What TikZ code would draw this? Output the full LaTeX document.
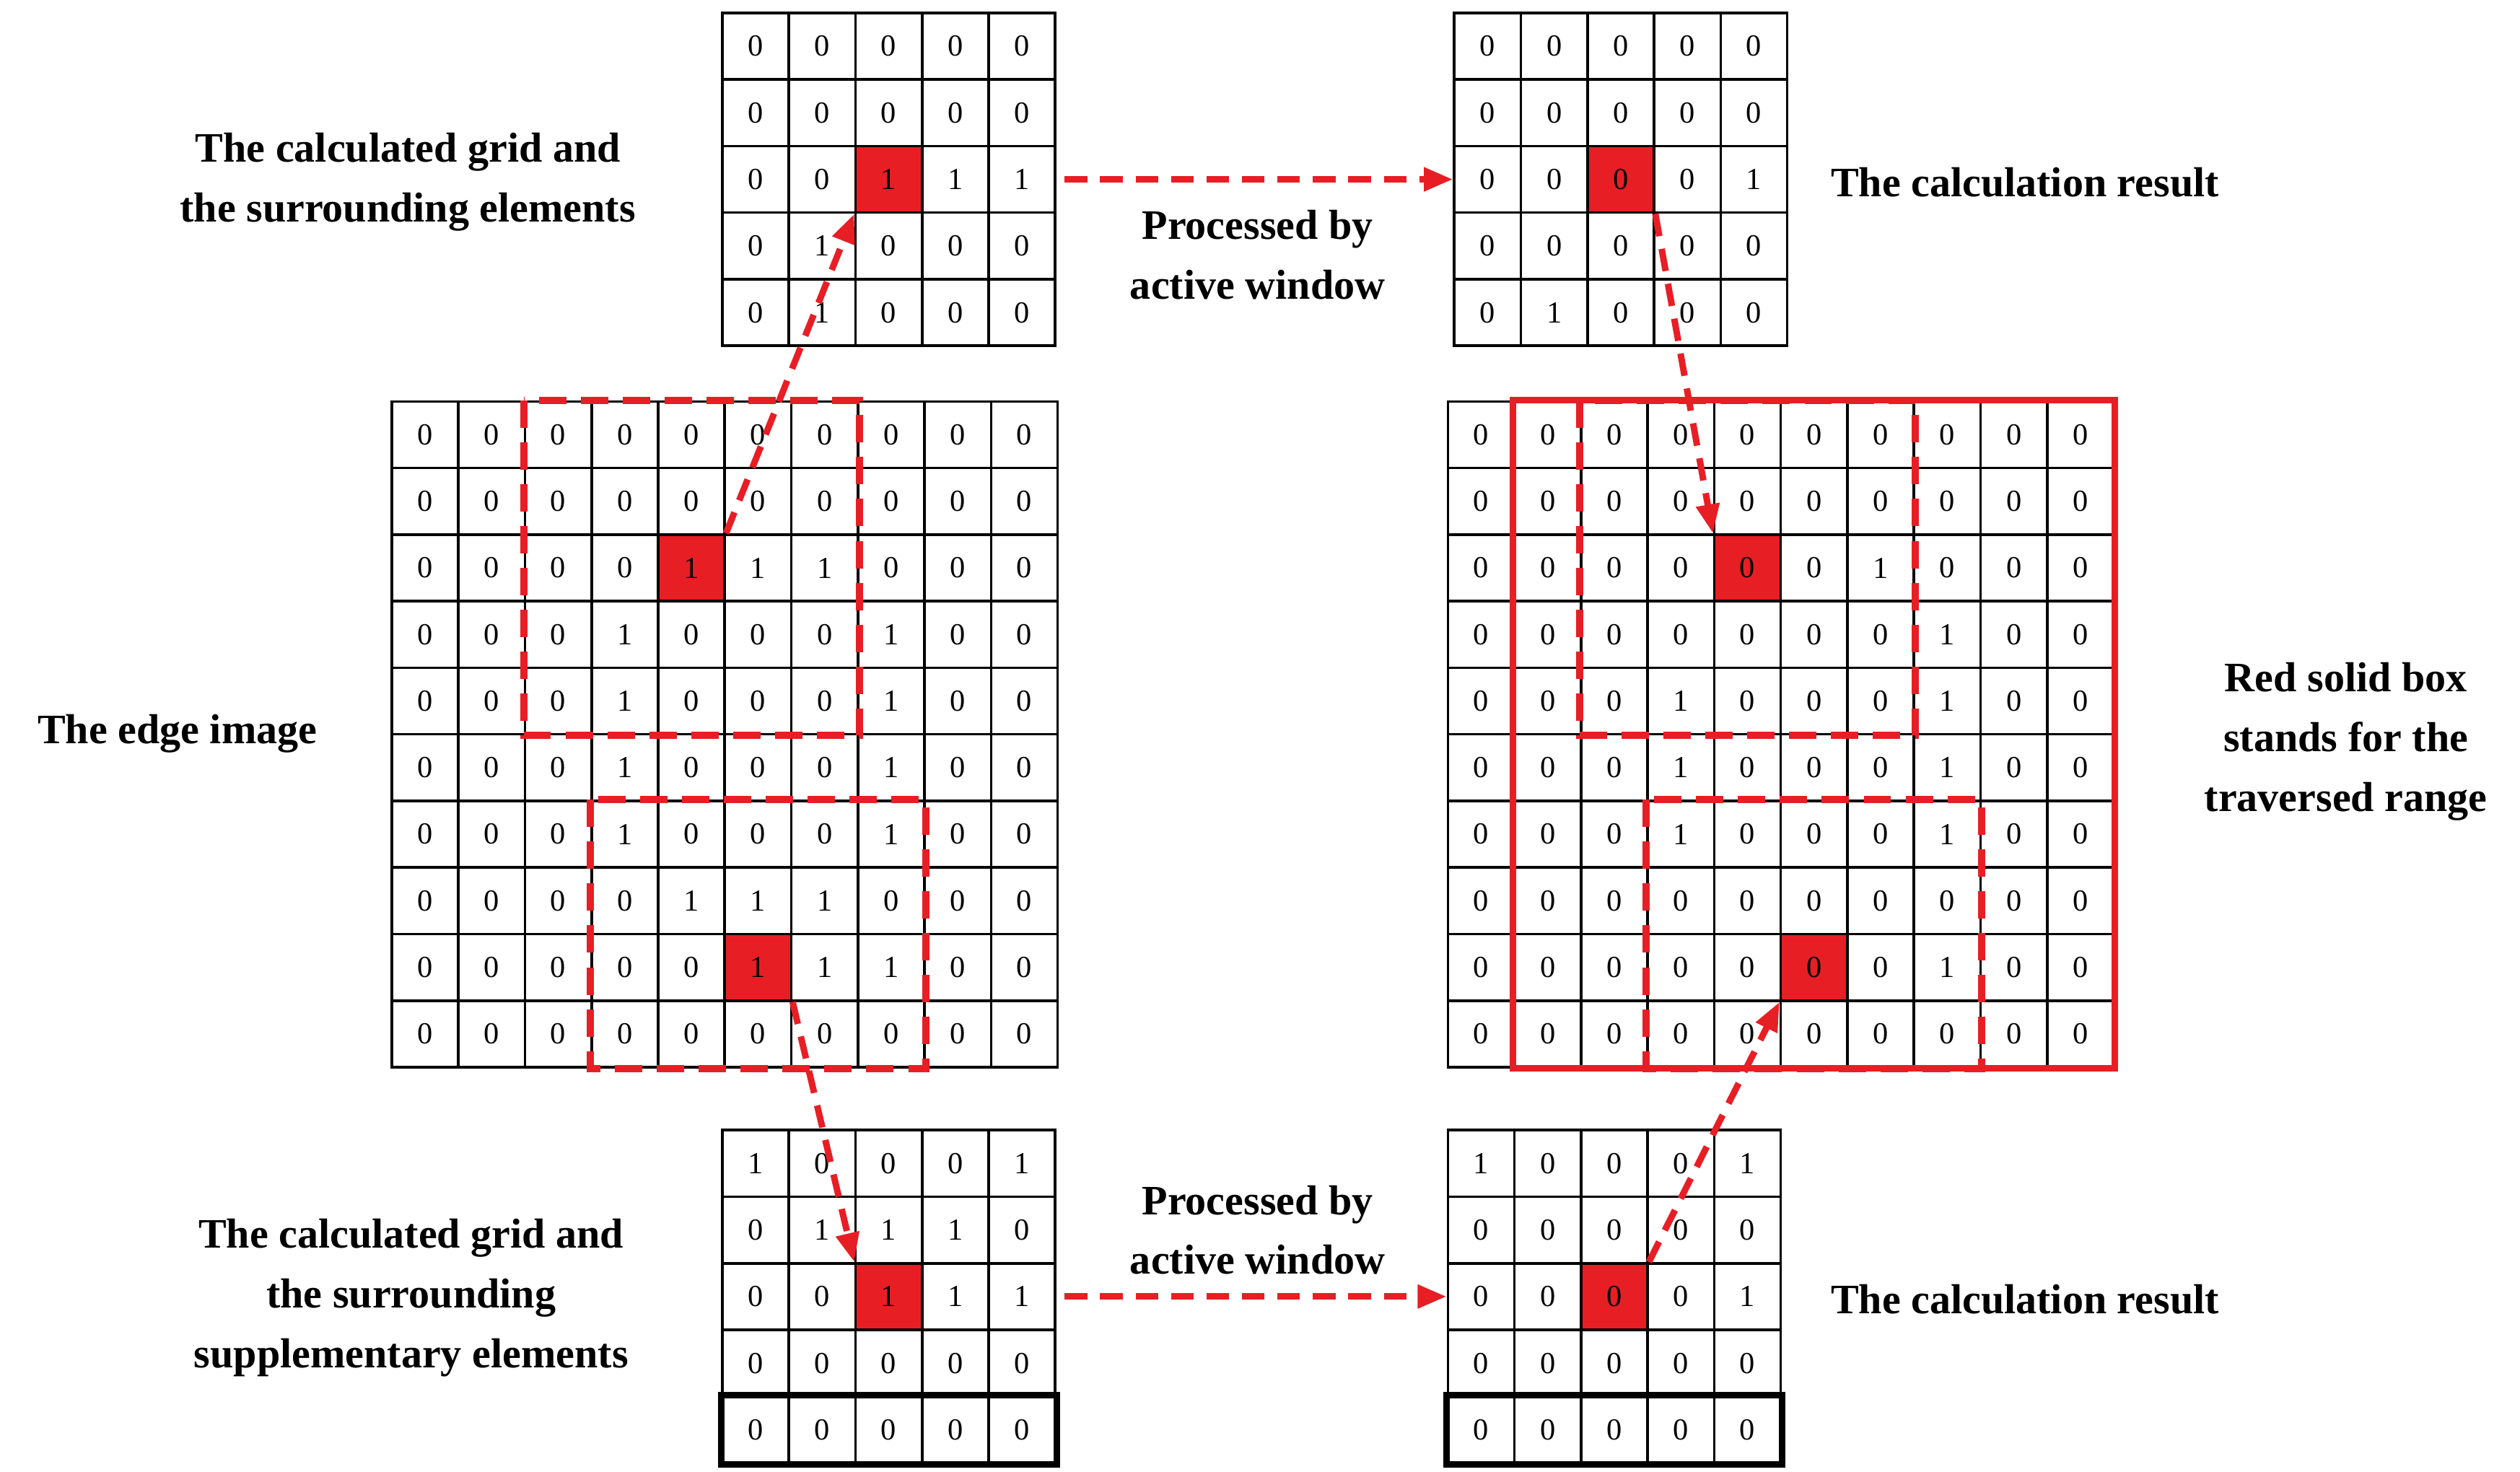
\documentclass[tikz,border=0pt]{standalone}
\usepackage{fontspec}
\setmainfont{Liberation Serif}
\usetikzlibrary{arrows.meta}
\definecolor{rd}{RGB}{232,30,37}
\tikzset{
 cell/.style={draw=black,line width=1.6pt,minimum size=41.3pt,inner sep=0pt,font=\fontsize{19}{19}\selectfont},
 hot/.style={cell,fill=rd},
 dbox/.style={draw=rd,line width=4.5pt,dash pattern=on 17pt off 9pt},
 darr/.style={draw=rd,line width=4pt,dash pattern=on 14pt off 8pt,-{Triangle[length=18pt,width=14pt]}},
 lbl/.style={font=\bfseries\fontsize{26}{37}\selectfont,align=center},
}
\newcommand\mygrid[4]{%
 \foreach \row [count=\r] in {#4}{
  \foreach \v [count=\c] in \row{
   \node[cell] (#3-\r-\c) at ({#1+41.3*(\c-0.5)},{#2+41.3*(\r-0.5)}) {\v};
  }
 }
}
\begin{document}
\begin{tikzpicture}[x=1pt,y=-1pt]
\useasboundingbox (0,0) rectangle (1563,913);
% left big
\mygrid{243}{249}{L}{{0,0,0,0,0,0,0,0,0,0},{0,0,0,0,0,0,0,0,0,0},{0,0,0,0,1,1,1,0,0,0},{0,0,0,1,0,0,0,1,0,0},{0,0,0,1,0,0,0,1,0,0},{0,0,0,1,0,0,0,1,0,0},{0,0,0,1,0,0,0,1,0,0},{0,0,0,0,1,1,1,0,0,0},{0,0,0,0,0,1,1,1,0,0},{0,0,0,0,0,0,0,0,0,0}}
\node[hot] at (L-3-5) {1};
\node[hot] at (L-9-6) {1};
% right big
\mygrid{898}{249}{R}{{0,0,0,0,0,0,0,0,0,0},{0,0,0,0,0,0,0,0,0,0},{0,0,0,0,0,0,1,0,0,0},{0,0,0,0,0,0,0,1,0,0},{0,0,0,1,0,0,0,1,0,0},{0,0,0,1,0,0,0,1,0,0},{0,0,0,1,0,0,0,1,0,0},{0,0,0,0,0,0,0,0,0,0},{0,0,0,0,0,0,0,1,0,0},{0,0,0,0,0,0,0,0,0,0}}
\node[hot] at (R-3-5) {0};
\node[hot] at (R-9-6) {0};
% small grids
\mygrid{448}{8}{TL}{{0,0,0,0,0},{0,0,0,0,0},{0,0,1,1,1},{0,1,0,0,0},{0,1,0,0,0}}
\node[hot] at (TL-3-3) {1};
\mygrid{902}{8}{TR}{{0,0,0,0,0},{0,0,0,0,0},{0,0,0,0,1},{0,0,0,0,0},{0,1,0,0,0}}
\node[hot] at (TR-3-3) {0};
\mygrid{448}{701}{BL}{{1,0,0,0,1},{0,1,1,1,0},{0,0,1,1,1},{0,0,0,0,0},{0,0,0,0,0}}
\node[hot] at (BL-3-3) {1};
\draw[line width=4pt] (BL-5-1.north west) rectangle (BL-5-5.south east);
\mygrid{898}{701}{BR}{{1,0,0,0,1},{0,0,0,0,0},{0,0,0,0,1},{0,0,0,0,0},{0,0,0,0,0}}
\node[hot] at (BR-3-3) {0};
\draw[line width=4pt] (BR-5-1.north west) rectangle (BR-5-5.south east);
% boxes
\draw[dbox] (L-1-3.north west) rectangle (L-5-7.south east);
\draw[dbox] (L-7-4.north west) rectangle (L-10-8.south east);
\draw[dbox] (R-1-3.north west) rectangle (R-5-7.south east);
\draw[dbox] (R-7-4.north west) rectangle (R-10-8.south east);
\draw[rd,line width=4pt] (R-1-2.north west) rectangle (R-10-10.south east);
% arrows
\draw[darr] (L-3-5.north east) -- (TL-3-3.south west);
\draw[darr] (L-9-6.south east) -- (BL-3-3.north west);
\draw[darr] ([xshift=5pt]TL-3-5.east) -- (TR-3-1.west);
\draw[darr] ([xshift=5pt]BL-3-5.east) -- (BR-3-1.west);
\draw[darr] (TR-3-3.south east) -- (R-3-5.north west);
\draw[darr] (BR-3-3.north east) -- (R-9-6.south west);
% labels
\node[lbl] (t1) at (253,113) {The calculated grid and\\the surrounding elements};
\node[lbl] (t2) at (780,158) {Processed by\\active window};
\node[lbl,anchor=west] (t3) at (1132,113) {The calculation result};
\node[lbl] (t4) at (110,455) {The edge image};
\node[lbl] (t5) at (1455,460) {Red solid box\\stands for the\\traversed range};
\node[lbl] (t6) at (255,805) {The calculated grid and\\the surrounding\\supplementary elements};
\node[lbl] (t7) at (780,763) {Processed by\\active window};
\node[lbl,anchor=west] (t8) at (1132,806) {The calculation result};
\end{tikzpicture}
\end{document}
